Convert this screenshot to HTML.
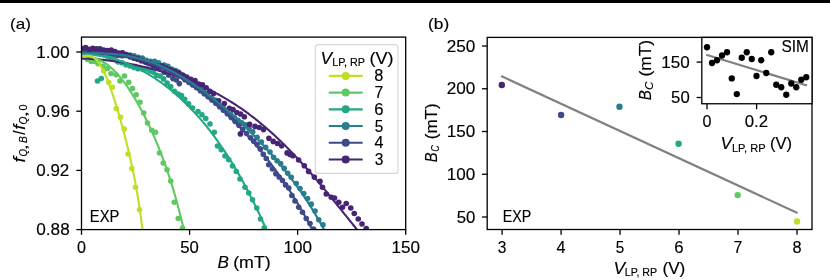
<!DOCTYPE html><html><head><meta charset="utf-8"><style>html,body{margin:0;padding:0;background:#fff;overflow:hidden;width:830px;height:280px;}svg{display:block;will-change:transform;} text{font-family:"Liberation Sans",sans-serif;stroke:#000;stroke-width:0.15px;}</style></head><body><svg width="830" height="280" viewBox="0 0 830 280"><rect width="830" height="280" fill="#fff"/><rect x="0" y="0" width="830" height="3" fill="#000"/>
<text x="10.14" y="29.30" font-size="15.0" textLength="20.81" lengthAdjust="spacingAndGlyphs" style="" fill="#000" >(a)</text>
<defs><clipPath id="ca"><rect x="81.50" y="37.10" width="324.20" height="192.50"/></clipPath><clipPath id="cb"><rect x="701.8" y="37.4" width="110" height="66.4"/></clipPath></defs>
<g clip-path="url(#ca)">
<circle cx="95.00" cy="60.00" r="2.8" fill="#bddf26"/>
<circle cx="98.00" cy="64.00" r="2.8" fill="#bddf26"/>
<circle cx="103.75" cy="71.00" r="2.8" fill="#bddf26"/>
<circle cx="108.75" cy="82.25" r="2.8" fill="#bddf26"/>
<circle cx="112.50" cy="87.25" r="2.8" fill="#bddf26"/>
<circle cx="116.25" cy="108.50" r="2.8" fill="#bddf26"/>
<circle cx="120.50" cy="117.25" r="2.8" fill="#bddf26"/>
<circle cx="124.25" cy="129.00" r="2.8" fill="#bddf26"/>
<circle cx="128.00" cy="154.00" r="2.8" fill="#bddf26"/>
<circle cx="131.75" cy="168.50" r="2.8" fill="#bddf26"/>
<circle cx="135.50" cy="187.25" r="2.8" fill="#bddf26"/>
<circle cx="139.50" cy="209.75" r="2.8" fill="#bddf26"/>
<circle cx="143.50" cy="232.00" r="2.8" fill="#bddf26"/>
<circle cx="87.50" cy="59.50" r="2.8" fill="#5ec962"/>
<circle cx="91.00" cy="61.30" r="2.8" fill="#5ec962"/>
<circle cx="94.50" cy="61.22" r="2.8" fill="#5ec962"/>
<circle cx="98.00" cy="63.00" r="2.8" fill="#5ec962"/>
<circle cx="103.00" cy="66.00" r="2.8" fill="#5ec962"/>
<circle cx="107.50" cy="68.50" r="2.8" fill="#5ec962"/>
<circle cx="111.00" cy="73.50" r="2.8" fill="#5ec962"/>
<circle cx="116.00" cy="74.75" r="2.8" fill="#5ec962"/>
<circle cx="120.00" cy="81.00" r="2.8" fill="#5ec962"/>
<circle cx="124.50" cy="76.00" r="2.8" fill="#5ec962"/>
<circle cx="128.75" cy="82.25" r="2.8" fill="#5ec962"/>
<circle cx="132.50" cy="88.50" r="2.8" fill="#5ec962"/>
<circle cx="136.25" cy="94.75" r="2.8" fill="#5ec962"/>
<circle cx="140.00" cy="102.25" r="2.8" fill="#5ec962"/>
<circle cx="143.75" cy="113.00" r="2.8" fill="#5ec962"/>
<circle cx="147.50" cy="123.00" r="2.8" fill="#5ec962"/>
<circle cx="151.75" cy="130.25" r="2.8" fill="#5ec962"/>
<circle cx="155.50" cy="132.25" r="2.8" fill="#5ec962"/>
<circle cx="159.50" cy="153.00" r="2.8" fill="#5ec962"/>
<circle cx="163.25" cy="163.00" r="2.8" fill="#5ec962"/>
<circle cx="167.00" cy="169.75" r="2.8" fill="#5ec962"/>
<circle cx="170.75" cy="181.00" r="2.8" fill="#5ec962"/>
<circle cx="174.25" cy="202.25" r="2.8" fill="#5ec962"/>
<circle cx="178.25" cy="218.50" r="2.8" fill="#5ec962"/>
<circle cx="182.50" cy="228.00" r="2.8" fill="#5ec962"/>
<circle cx="82.00" cy="50.50" r="2.8" fill="#22a884"/>
<circle cx="85.60" cy="51.62" r="2.8" fill="#22a884"/>
<circle cx="89.20" cy="51.36" r="2.8" fill="#22a884"/>
<circle cx="92.80" cy="52.49" r="2.8" fill="#22a884"/>
<circle cx="96.40" cy="53.55" r="2.8" fill="#22a884"/>
<circle cx="100.00" cy="53.00" r="2.8" fill="#22a884"/>
<circle cx="103.33" cy="54.58" r="2.8" fill="#22a884"/>
<circle cx="106.67" cy="56.00" r="2.8" fill="#22a884"/>
<circle cx="110.00" cy="57.50" r="2.8" fill="#22a884"/>
<circle cx="114.00" cy="58.81" r="2.8" fill="#22a884"/>
<circle cx="118.00" cy="62.00" r="2.8" fill="#22a884"/>
<circle cx="122.00" cy="62.82" r="2.8" fill="#22a884"/>
<circle cx="126.00" cy="64.67" r="2.8" fill="#22a884"/>
<circle cx="130.00" cy="66.00" r="2.8" fill="#22a884"/>
<circle cx="134.00" cy="67.39" r="2.8" fill="#22a884"/>
<circle cx="138.00" cy="68.67" r="2.8" fill="#22a884"/>
<circle cx="142.00" cy="68.74" r="2.8" fill="#22a884"/>
<circle cx="146.00" cy="69.05" r="2.8" fill="#22a884"/>
<circle cx="150.00" cy="71.00" r="2.8" fill="#22a884"/>
<circle cx="153.33" cy="72.20" r="2.8" fill="#22a884"/>
<circle cx="156.67" cy="75.23" r="2.8" fill="#22a884"/>
<circle cx="160.00" cy="76.00" r="2.8" fill="#22a884"/>
<circle cx="163.57" cy="78.90" r="2.8" fill="#22a884"/>
<circle cx="167.13" cy="82.96" r="2.8" fill="#22a884"/>
<circle cx="170.70" cy="86.60" r="2.8" fill="#22a884"/>
<circle cx="174.45" cy="91.25" r="2.8" fill="#22a884"/>
<circle cx="178.20" cy="94.00" r="2.8" fill="#22a884"/>
<circle cx="181.45" cy="95.65" r="2.8" fill="#22a884"/>
<circle cx="184.70" cy="99.40" r="2.8" fill="#22a884"/>
<circle cx="188.60" cy="103.92" r="2.8" fill="#22a884"/>
<circle cx="192.50" cy="108.00" r="2.8" fill="#22a884"/>
<circle cx="198.00" cy="111.50" r="2.8" fill="#22a884"/>
<circle cx="202.00" cy="114.75" r="2.8" fill="#22a884"/>
<circle cx="205.75" cy="118.50" r="2.8" fill="#22a884"/>
<circle cx="210.00" cy="124.00" r="2.8" fill="#22a884"/>
<circle cx="214.25" cy="132.25" r="2.8" fill="#22a884"/>
<circle cx="217.50" cy="146.00" r="2.8" fill="#22a884"/>
<circle cx="221.25" cy="149.75" r="2.8" fill="#22a884"/>
<circle cx="225.00" cy="156.00" r="2.8" fill="#22a884"/>
<circle cx="228.75" cy="159.75" r="2.8" fill="#22a884"/>
<circle cx="232.50" cy="166.00" r="2.8" fill="#22a884"/>
<circle cx="236.25" cy="171.50" r="2.8" fill="#22a884"/>
<circle cx="240.00" cy="179.00" r="2.8" fill="#22a884"/>
<circle cx="245.00" cy="187.25" r="2.8" fill="#22a884"/>
<circle cx="248.75" cy="193.00" r="2.8" fill="#22a884"/>
<circle cx="252.50" cy="199.75" r="2.8" fill="#22a884"/>
<circle cx="256.75" cy="208.00" r="2.8" fill="#22a884"/>
<circle cx="260.50" cy="219.00" r="2.8" fill="#22a884"/>
<circle cx="264.25" cy="227.75" r="2.8" fill="#22a884"/>
<circle cx="97.50" cy="81.00" r="2.8" fill="#22a884"/>
<circle cx="101.25" cy="78.50" r="2.8" fill="#22a884"/>
<circle cx="82.00" cy="49.00" r="2.8" fill="#287d8e"/>
<circle cx="86.00" cy="50.49" r="2.8" fill="#287d8e"/>
<circle cx="90.00" cy="49.41" r="2.8" fill="#287d8e"/>
<circle cx="94.00" cy="50.61" r="2.8" fill="#287d8e"/>
<circle cx="98.00" cy="51.90" r="2.8" fill="#287d8e"/>
<circle cx="102.00" cy="50.69" r="2.8" fill="#287d8e"/>
<circle cx="106.00" cy="52.05" r="2.8" fill="#287d8e"/>
<circle cx="110.00" cy="53.05" r="2.8" fill="#287d8e"/>
<circle cx="114.00" cy="53.37" r="2.8" fill="#287d8e"/>
<circle cx="118.00" cy="53.43" r="2.8" fill="#287d8e"/>
<circle cx="122.00" cy="53.35" r="2.8" fill="#287d8e"/>
<circle cx="126.00" cy="54.48" r="2.8" fill="#287d8e"/>
<circle cx="130.00" cy="55.00" r="2.8" fill="#287d8e"/>
<circle cx="134.09" cy="55.85" r="2.8" fill="#287d8e"/>
<circle cx="138.17" cy="57.21" r="2.8" fill="#287d8e"/>
<circle cx="142.26" cy="58.09" r="2.8" fill="#287d8e"/>
<circle cx="146.34" cy="60.26" r="2.8" fill="#287d8e"/>
<circle cx="150.43" cy="61.23" r="2.8" fill="#287d8e"/>
<circle cx="154.51" cy="61.36" r="2.8" fill="#287d8e"/>
<circle cx="158.60" cy="62.90" r="2.8" fill="#287d8e"/>
<circle cx="164.30" cy="65.00" r="2.8" fill="#287d8e"/>
<circle cx="167.90" cy="66.40" r="2.8" fill="#287d8e"/>
<circle cx="171.77" cy="68.93" r="2.8" fill="#287d8e"/>
<circle cx="175.64" cy="70.65" r="2.8" fill="#287d8e"/>
<circle cx="179.51" cy="73.41" r="2.8" fill="#287d8e"/>
<circle cx="183.39" cy="75.56" r="2.8" fill="#287d8e"/>
<circle cx="187.26" cy="78.60" r="2.8" fill="#287d8e"/>
<circle cx="191.13" cy="80.34" r="2.8" fill="#287d8e"/>
<circle cx="195.00" cy="83.00" r="2.8" fill="#287d8e"/>
<circle cx="199.00" cy="86.46" r="2.8" fill="#287d8e"/>
<circle cx="203.00" cy="90.58" r="2.8" fill="#287d8e"/>
<circle cx="207.00" cy="93.46" r="2.8" fill="#287d8e"/>
<circle cx="211.00" cy="98.09" r="2.8" fill="#287d8e"/>
<circle cx="215.00" cy="100.05" r="2.8" fill="#287d8e"/>
<circle cx="219.00" cy="104.83" r="2.8" fill="#287d8e"/>
<circle cx="223.00" cy="107.68" r="2.8" fill="#287d8e"/>
<circle cx="227.00" cy="111.40" r="2.8" fill="#287d8e"/>
<circle cx="230.69" cy="114.15" r="2.8" fill="#287d8e"/>
<circle cx="234.37" cy="117.52" r="2.8" fill="#287d8e"/>
<circle cx="238.06" cy="120.19" r="2.8" fill="#287d8e"/>
<circle cx="241.74" cy="122.87" r="2.8" fill="#287d8e"/>
<circle cx="245.43" cy="124.87" r="2.8" fill="#287d8e"/>
<circle cx="249.11" cy="127.99" r="2.8" fill="#287d8e"/>
<circle cx="252.80" cy="131.80" r="2.8" fill="#287d8e"/>
<circle cx="257.10" cy="137.31" r="2.8" fill="#287d8e"/>
<circle cx="261.40" cy="141.95" r="2.8" fill="#287d8e"/>
<circle cx="265.70" cy="147.38" r="2.8" fill="#287d8e"/>
<circle cx="270.00" cy="152.00" r="2.8" fill="#287d8e"/>
<circle cx="273.54" cy="157.21" r="2.8" fill="#287d8e"/>
<circle cx="277.08" cy="160.82" r="2.8" fill="#287d8e"/>
<circle cx="280.62" cy="163.64" r="2.8" fill="#287d8e"/>
<circle cx="284.17" cy="168.41" r="2.8" fill="#287d8e"/>
<circle cx="287.71" cy="173.25" r="2.8" fill="#287d8e"/>
<circle cx="291.25" cy="177.25" r="2.8" fill="#287d8e"/>
<circle cx="296.25" cy="183.50" r="2.8" fill="#287d8e"/>
<circle cx="300.00" cy="188.50" r="2.8" fill="#287d8e"/>
<circle cx="303.75" cy="193.50" r="2.8" fill="#287d8e"/>
<circle cx="307.50" cy="198.50" r="2.8" fill="#287d8e"/>
<circle cx="311.25" cy="204.17" r="2.8" fill="#287d8e"/>
<circle cx="315.00" cy="211.00" r="2.8" fill="#287d8e"/>
<circle cx="318.75" cy="219.75" r="2.8" fill="#287d8e"/>
<circle cx="323.00" cy="224.75" r="2.8" fill="#287d8e"/>
<circle cx="82.00" cy="49.00" r="2.8" fill="#3e4a89"/>
<circle cx="86.00" cy="50.69" r="2.8" fill="#3e4a89"/>
<circle cx="90.00" cy="51.31" r="2.8" fill="#3e4a89"/>
<circle cx="94.00" cy="51.77" r="2.8" fill="#3e4a89"/>
<circle cx="98.00" cy="51.61" r="2.8" fill="#3e4a89"/>
<circle cx="102.00" cy="53.08" r="2.8" fill="#3e4a89"/>
<circle cx="106.00" cy="52.19" r="2.8" fill="#3e4a89"/>
<circle cx="110.00" cy="53.25" r="2.8" fill="#3e4a89"/>
<circle cx="114.00" cy="54.25" r="2.8" fill="#3e4a89"/>
<circle cx="118.00" cy="55.53" r="2.8" fill="#3e4a89"/>
<circle cx="122.00" cy="55.64" r="2.8" fill="#3e4a89"/>
<circle cx="126.00" cy="55.53" r="2.8" fill="#3e4a89"/>
<circle cx="130.00" cy="57.00" r="2.8" fill="#3e4a89"/>
<circle cx="133.75" cy="58.03" r="2.8" fill="#3e4a89"/>
<circle cx="137.50" cy="59.36" r="2.8" fill="#3e4a89"/>
<circle cx="141.25" cy="60.69" r="2.8" fill="#3e4a89"/>
<circle cx="145.00" cy="61.76" r="2.8" fill="#3e4a89"/>
<circle cx="148.75" cy="63.69" r="2.8" fill="#3e4a89"/>
<circle cx="152.50" cy="65.14" r="2.8" fill="#3e4a89"/>
<circle cx="156.25" cy="67.23" r="2.8" fill="#3e4a89"/>
<circle cx="160.00" cy="68.00" r="2.8" fill="#3e4a89"/>
<circle cx="164.30" cy="72.19" r="2.8" fill="#3e4a89"/>
<circle cx="168.60" cy="75.12" r="2.8" fill="#3e4a89"/>
<circle cx="172.90" cy="78.60" r="2.8" fill="#3e4a89"/>
<circle cx="176.40" cy="80.00" r="2.8" fill="#3e4a89"/>
<circle cx="179.30" cy="83.60" r="2.8" fill="#3e4a89"/>
<circle cx="185.00" cy="79.81" r="2.8" fill="#3e4a89"/>
<circle cx="188.85" cy="82.35" r="2.8" fill="#3e4a89"/>
<circle cx="192.70" cy="85.01" r="2.8" fill="#3e4a89"/>
<circle cx="196.55" cy="87.77" r="2.8" fill="#3e4a89"/>
<circle cx="200.40" cy="90.65" r="2.8" fill="#3e4a89"/>
<circle cx="204.25" cy="93.63" r="2.8" fill="#3e4a89"/>
<circle cx="208.10" cy="96.72" r="2.8" fill="#3e4a89"/>
<circle cx="211.95" cy="99.92" r="2.8" fill="#3e4a89"/>
<circle cx="215.80" cy="103.23" r="2.8" fill="#3e4a89"/>
<circle cx="219.65" cy="106.64" r="2.8" fill="#3e4a89"/>
<circle cx="223.50" cy="110.16" r="2.8" fill="#3e4a89"/>
<circle cx="227.35" cy="113.78" r="2.8" fill="#3e4a89"/>
<circle cx="231.20" cy="117.51" r="2.8" fill="#3e4a89"/>
<circle cx="235.05" cy="121.35" r="2.8" fill="#3e4a89"/>
<circle cx="238.90" cy="125.30" r="2.8" fill="#3e4a89"/>
<circle cx="242.75" cy="129.37" r="2.8" fill="#3e4a89"/>
<circle cx="246.60" cy="133.54" r="2.8" fill="#3e4a89"/>
<circle cx="250.45" cy="137.84" r="2.8" fill="#3e4a89"/>
<circle cx="253.72" cy="141.13" r="2.8" fill="#3e4a89"/>
<circle cx="257.00" cy="144.60" r="2.8" fill="#3e4a89"/>
<circle cx="260.30" cy="148.90" r="2.8" fill="#3e4a89"/>
<circle cx="263.27" cy="154.31" r="2.8" fill="#3e4a89"/>
<circle cx="266.25" cy="158.50" r="2.8" fill="#3e4a89"/>
<circle cx="268.75" cy="164.75" r="2.8" fill="#3e4a89"/>
<circle cx="272.50" cy="169.00" r="2.8" fill="#3e4a89"/>
<circle cx="275.83" cy="173.69" r="2.8" fill="#3e4a89"/>
<circle cx="279.17" cy="177.05" r="2.8" fill="#3e4a89"/>
<circle cx="282.50" cy="180.50" r="2.8" fill="#3e4a89"/>
<circle cx="285.62" cy="184.91" r="2.8" fill="#3e4a89"/>
<circle cx="288.75" cy="188.00" r="2.8" fill="#3e4a89"/>
<circle cx="291.88" cy="195.47" r="2.8" fill="#3e4a89"/>
<circle cx="295.00" cy="201.00" r="2.8" fill="#3e4a89"/>
<circle cx="298.75" cy="207.25" r="2.8" fill="#3e4a89"/>
<circle cx="302.50" cy="212.25" r="2.8" fill="#3e4a89"/>
<circle cx="306.25" cy="218.50" r="2.8" fill="#3e4a89"/>
<circle cx="310.00" cy="223.50" r="2.8" fill="#3e4a89"/>
<circle cx="313.50" cy="229.00" r="2.8" fill="#3e4a89"/>
<circle cx="82.00" cy="48.50" r="2.8" fill="#482475"/>
<circle cx="85.60" cy="47.55" r="2.8" fill="#482475"/>
<circle cx="89.20" cy="49.45" r="2.8" fill="#482475"/>
<circle cx="92.80" cy="48.19" r="2.8" fill="#482475"/>
<circle cx="96.40" cy="48.69" r="2.8" fill="#482475"/>
<circle cx="100.00" cy="48.80" r="2.8" fill="#482475"/>
<circle cx="103.75" cy="50.13" r="2.8" fill="#482475"/>
<circle cx="107.50" cy="50.63" r="2.8" fill="#482475"/>
<circle cx="111.25" cy="50.05" r="2.8" fill="#482475"/>
<circle cx="115.00" cy="51.50" r="2.8" fill="#482475"/>
<circle cx="118.75" cy="52.97" r="2.8" fill="#482475"/>
<circle cx="122.50" cy="52.80" r="2.8" fill="#482475"/>
<circle cx="126.25" cy="54.56" r="2.8" fill="#482475"/>
<circle cx="130.00" cy="56.00" r="2.8" fill="#482475"/>
<circle cx="134.00" cy="58.09" r="2.8" fill="#482475"/>
<circle cx="138.00" cy="58.64" r="2.8" fill="#482475"/>
<circle cx="142.00" cy="60.42" r="2.8" fill="#482475"/>
<circle cx="146.00" cy="62.10" r="2.8" fill="#482475"/>
<circle cx="150.00" cy="63.00" r="2.8" fill="#482475"/>
<circle cx="154.00" cy="65.01" r="2.8" fill="#482475"/>
<circle cx="158.00" cy="66.17" r="2.8" fill="#482475"/>
<circle cx="162.00" cy="65.82" r="2.8" fill="#482475"/>
<circle cx="166.00" cy="68.02" r="2.8" fill="#482475"/>
<circle cx="170.00" cy="69.50" r="2.8" fill="#482475"/>
<circle cx="174.17" cy="71.25" r="2.8" fill="#482475"/>
<circle cx="178.33" cy="72.19" r="2.8" fill="#482475"/>
<circle cx="182.50" cy="75.09" r="2.8" fill="#482475"/>
<circle cx="186.67" cy="77.07" r="2.8" fill="#482475"/>
<circle cx="190.83" cy="79.39" r="2.8" fill="#482475"/>
<circle cx="195.00" cy="80.50" r="2.8" fill="#482475"/>
<circle cx="198.72" cy="84.09" r="2.8" fill="#482475"/>
<circle cx="202.44" cy="84.92" r="2.8" fill="#482475"/>
<circle cx="206.16" cy="87.77" r="2.8" fill="#482475"/>
<circle cx="209.88" cy="91.33" r="2.8" fill="#482475"/>
<circle cx="213.60" cy="93.60" r="2.8" fill="#482475"/>
<circle cx="218.60" cy="100.70" r="2.8" fill="#482475"/>
<circle cx="224.30" cy="103.60" r="2.8" fill="#482475"/>
<circle cx="229.30" cy="108.20" r="2.8" fill="#482475"/>
<circle cx="233.05" cy="109.54" r="2.8" fill="#482475"/>
<circle cx="236.80" cy="112.50" r="2.8" fill="#482475"/>
<circle cx="240.55" cy="114.04" r="2.8" fill="#482475"/>
<circle cx="244.30" cy="116.80" r="2.8" fill="#482475"/>
<circle cx="249.60" cy="124.30" r="2.8" fill="#482475"/>
<circle cx="255.00" cy="126.40" r="2.8" fill="#482475"/>
<circle cx="259.30" cy="127.50" r="2.8" fill="#482475"/>
<circle cx="263.50" cy="129.60" r="2.8" fill="#482475"/>
<circle cx="268.90" cy="138.20" r="2.8" fill="#482475"/>
<circle cx="273.20" cy="141.40" r="2.8" fill="#482475"/>
<circle cx="277.50" cy="143.50" r="2.8" fill="#482475"/>
<circle cx="281.70" cy="145.70" r="2.8" fill="#482475"/>
<circle cx="287.10" cy="152.90" r="2.8" fill="#482475"/>
<circle cx="290.00" cy="154.46" r="2.8" fill="#482475"/>
<circle cx="292.90" cy="155.70" r="2.8" fill="#482475"/>
<circle cx="298.60" cy="160.00" r="2.8" fill="#482475"/>
<circle cx="304.30" cy="165.70" r="2.8" fill="#482475"/>
<circle cx="308.60" cy="171.40" r="2.8" fill="#482475"/>
<circle cx="314.30" cy="177.10" r="2.8" fill="#482475"/>
<circle cx="320.00" cy="181.40" r="2.8" fill="#482475"/>
<circle cx="322.50" cy="187.25" r="2.8" fill="#482475"/>
<circle cx="326.25" cy="194.00" r="2.8" fill="#482475"/>
<circle cx="331.25" cy="197.25" r="2.8" fill="#482475"/>
<circle cx="334.50" cy="198.00" r="2.8" fill="#482475"/>
<circle cx="338.75" cy="202.25" r="2.8" fill="#482475"/>
<circle cx="342.50" cy="207.25" r="2.8" fill="#482475"/>
<circle cx="346.25" cy="203.50" r="2.8" fill="#482475"/>
<circle cx="350.75" cy="208.00" r="2.8" fill="#482475"/>
<circle cx="354.25" cy="213.50" r="2.8" fill="#482475"/>
<circle cx="358.25" cy="219.00" r="2.8" fill="#482475"/>
<circle cx="362.00" cy="224.00" r="2.8" fill="#482475"/>
<circle cx="366.25" cy="228.50" r="2.8" fill="#482475"/>
<circle cx="240.40" cy="133.90" r="2.8" fill="#482475"/>
<polyline points="81.50,58.66 82.55,58.67 83.59,58.67 84.64,58.69 85.68,58.71 86.73,58.74 87.77,58.77 88.82,58.81 89.86,58.86 90.91,58.91 91.96,58.96 93.00,59.02 94.05,59.09 95.09,59.16 96.14,59.23 97.18,59.31 98.23,59.40 99.27,59.49 100.32,59.58 101.36,59.68 102.41,59.78 103.46,59.89 104.50,60.00 105.55,60.12 106.59,60.24 107.64,60.36 108.68,60.49 109.73,60.62 110.77,60.76 111.82,60.90 112.87,61.04 113.91,61.19 114.96,61.34 116.00,61.49 117.05,61.65 118.09,61.81 119.14,61.98 120.18,62.15 121.23,62.32 122.28,62.49 123.32,62.67 124.37,62.85 125.41,63.04 126.46,63.23 127.50,63.42 128.55,63.61 129.59,63.81 130.64,64.01 131.68,64.22 132.73,64.43 133.78,64.64 134.82,64.85 135.87,65.07 136.91,65.29 137.96,65.51 139.00,65.74 140.05,65.97 141.09,66.21 142.14,66.44 143.19,66.68 144.23,66.92 145.28,67.17 146.32,67.42 147.37,67.67 148.41,67.93 149.46,68.19 150.50,68.45 151.55,68.72 152.60,68.99 153.64,69.26 154.69,69.54 155.73,69.82 156.78,70.10 157.82,70.39 158.87,70.68 159.91,70.97 160.96,71.27 162.00,71.57 163.05,71.87 164.10,72.18 165.14,72.49 166.19,72.81 167.23,73.13 168.28,73.45 169.32,73.78 170.37,74.11 171.41,74.45 172.46,74.79 173.51,75.13 174.55,75.48 175.60,75.83 176.64,76.19 177.69,76.55 178.73,76.91 179.78,77.28 180.82,77.66 181.87,78.03 182.92,78.42 183.96,78.80 185.01,79.20 186.05,79.59 187.10,79.99 188.14,80.40 189.19,80.81 190.23,81.22 191.28,81.65 192.32,82.07 193.37,82.50 194.42,82.94 195.46,83.38 196.51,83.82 197.55,84.28 198.60,84.73 199.64,85.19 200.69,85.66 201.73,86.13 202.78,86.61 203.83,87.10 204.87,87.59 205.92,88.08 206.96,88.58 208.01,89.09 209.05,89.60 210.10,90.12 211.14,90.65 212.19,91.18 213.23,91.72 214.28,92.26 215.33,92.81 216.37,93.37 217.42,93.93 218.46,94.50 219.51,95.07 220.55,95.65 221.60,96.24 222.64,96.83 223.69,97.44 224.74,98.04 225.78,98.66 226.83,99.28 227.87,99.91 228.92,100.54 229.96,101.18 231.01,101.83 232.05,102.49 233.10,103.15 234.15,103.82 235.19,104.50 236.24,105.18 237.28,105.87 238.33,106.57 239.37,107.28 240.42,107.99 241.46,108.71 242.51,109.44 243.55,110.17 244.60,110.92 245.65,111.67 246.69,112.42 247.74,113.19 248.78,113.96 249.83,114.74 250.87,115.53 251.92,116.32 252.96,117.13 254.01,117.94 255.06,118.76 256.10,119.58 257.15,120.42 258.19,121.26 259.24,122.11 260.28,122.96 261.33,123.83 262.37,124.70 263.42,125.58 264.47,126.47 265.51,127.36 266.56,128.27 267.60,129.18 268.65,130.10 269.69,131.02 270.74,131.96 271.78,132.90 272.83,133.85 273.87,134.81 274.92,135.77 275.97,136.74 277.01,137.72 278.06,138.71 279.10,139.71 280.15,140.71 281.19,141.72 282.24,142.74 283.28,143.76 284.33,144.79 285.38,145.83 286.42,146.88 287.47,147.93 288.51,149.00 289.56,150.07 290.60,151.14 291.65,152.22 292.69,153.31 293.74,154.41 294.79,155.51 295.83,156.63 296.88,157.74 297.92,158.87 298.97,160.00 300.01,161.13 301.06,162.28 302.10,163.43 303.15,164.58 304.19,165.75 305.24,166.92 306.29,168.09 307.33,169.27 308.38,170.46 309.42,171.65 310.47,172.85 311.51,174.05 312.56,175.26 313.60,176.47 314.65,177.69 315.70,178.91 316.74,180.14 317.79,181.38 318.83,182.61 319.88,183.86 320.92,185.10 321.97,186.35 323.01,187.61 324.06,188.87 325.11,190.13 326.15,191.40 327.20,192.67 328.24,193.94 329.29,195.22 330.33,196.49 331.38,197.78 332.42,199.06 333.47,200.35 334.51,201.64 335.56,202.93 336.61,204.22 337.65,205.52 338.70,206.81 339.74,208.11 340.79,209.41 341.83,210.71 342.88,212.00 343.92,213.30 344.97,214.60 346.02,215.90 347.06,217.20 348.11,218.50 349.15,219.80 350.20,221.10 351.24,222.39 352.29,223.69 353.33,224.98 354.38,226.27 355.43,227.56 356.47,228.85 357.52,230.13 358.56,231.41 359.61,232.68 360.65,233.95 361.70,235.22 362.74,236.49" fill="none" stroke="#482475" stroke-width="2.1"/>
<polyline points="81.50,53.50 82.55,53.50 83.59,53.50 84.64,53.50 85.68,53.50 86.73,53.50 87.77,53.51 88.82,53.51 89.86,53.52 90.91,53.53 91.96,53.54 93.00,53.56 94.05,53.57 95.09,53.59 96.14,53.62 97.18,53.65 98.23,53.68 99.27,53.71 100.32,53.75 101.36,53.79 102.41,53.84 103.46,53.89 104.50,53.95 105.55,54.01 106.59,54.08 107.64,54.15 108.68,54.23 109.73,54.32 110.77,54.41 111.82,54.50 112.87,54.61 113.91,54.71 114.96,54.83 116.00,54.95 117.05,55.08 118.09,55.21 119.14,55.35 120.18,55.50 121.23,55.66 122.28,55.82 123.32,55.99 124.37,56.17 125.41,56.36 126.46,56.55 127.50,56.75 128.55,56.96 129.59,57.17 130.64,57.40 131.68,57.63 132.73,57.87 133.78,58.12 134.82,58.38 135.87,58.64 136.91,58.91 137.96,59.19 139.00,59.48 140.05,59.78 141.09,60.09 142.14,60.40 143.19,60.73 144.23,61.06 145.28,61.40 146.32,61.75 147.37,62.11 148.41,62.47 149.46,62.85 150.50,63.23 151.55,63.63 152.60,64.03 153.64,64.44 154.69,64.86 155.73,65.29 156.78,65.72 157.82,66.17 158.87,66.62 159.91,67.09 160.96,67.56 162.00,68.04 163.05,68.53 164.10,69.03 165.14,69.53 166.19,70.05 167.23,70.57 168.28,71.11 169.32,71.65 170.37,72.20 171.41,72.76 172.46,73.33 173.51,73.91 174.55,74.49 175.60,75.08 176.64,75.69 177.69,76.30 178.73,76.92 179.78,77.55 180.82,78.18 181.87,78.83 182.92,79.48 183.96,80.14 185.01,80.81 186.05,81.49 187.10,82.18 188.14,82.88 189.19,83.58 190.23,84.29 191.28,85.01 192.32,85.74 193.37,86.48 194.42,87.22 195.46,87.98 196.51,88.74 197.55,89.51 198.60,90.29 199.64,91.07 200.69,91.87 201.73,92.67 202.78,93.48 203.83,94.30 204.87,95.12 205.92,95.95 206.96,96.80 208.01,97.65 209.05,98.50 210.10,99.37 211.14,100.24 212.19,101.12 213.23,102.01 214.28,102.91 215.33,103.81 216.37,104.73 217.42,105.65 218.46,106.57 219.51,107.51 220.55,108.45 221.60,109.41 222.64,110.36 223.69,111.33 224.74,112.31 225.78,113.29 226.83,114.28 227.87,115.28 228.92,116.29 229.96,117.30 231.01,118.32 232.05,119.35 233.10,120.39 234.15,121.44 235.19,122.49 236.24,123.56 237.28,124.63 238.33,125.71 239.37,126.80 240.42,127.89 241.46,128.99 242.51,130.11 243.55,131.23 244.60,132.36 245.65,133.50 246.69,134.64 247.74,135.80 248.78,136.96 249.83,138.13 250.87,139.32 251.92,140.51 252.96,141.71 254.01,142.92 255.06,144.13 256.10,145.36 257.15,146.60 258.19,147.85 259.24,149.10 260.28,150.37 261.33,151.64 262.37,152.93 263.42,154.23 264.47,155.53 265.51,156.85 266.56,158.18 267.60,159.52 268.65,160.87 269.69,162.23 270.74,163.60 271.78,164.98 272.83,166.38 273.87,167.78 274.92,169.20 275.97,170.63 277.01,172.08 278.06,173.53 279.10,175.00 280.15,176.48 281.19,177.97 282.24,179.48 283.28,181.00 284.33,182.54 285.38,184.08 286.42,185.65 287.47,187.22 288.51,188.82 289.56,190.42 290.60,192.04 291.65,193.68 292.69,195.34 293.74,197.00 294.79,198.69 295.83,200.39 296.88,202.11 297.92,203.85 298.97,205.60 300.01,207.37 301.06,209.16 302.10,210.97 303.15,212.80 304.19,214.65 305.24,216.51 306.29,218.40 307.33,220.31 308.38,222.23 309.42,224.18 310.47,226.15 311.51,228.14 312.56,230.15 313.60,232.19 314.65,234.25 315.70,236.33" fill="none" stroke="#3e4a89" stroke-width="2.1"/>
<polyline points="81.50,53.20 82.55,53.20 83.59,53.20 84.64,53.19 85.68,53.19 86.73,53.19 87.77,53.19 88.82,53.18 89.86,53.18 90.91,53.18 91.96,53.19 93.00,53.19 94.05,53.20 95.09,53.21 96.14,53.22 97.18,53.23 98.23,53.25 99.27,53.27 100.32,53.29 101.36,53.32 102.41,53.35 103.46,53.39 104.50,53.43 105.55,53.47 106.59,53.52 107.64,53.58 108.68,53.64 109.73,53.70 110.77,53.78 111.82,53.85 112.87,53.94 113.91,54.03 114.96,54.12 116.00,54.22 117.05,54.33 118.09,54.45 119.14,54.57 120.18,54.70 121.23,54.83 122.28,54.98 123.32,55.13 124.37,55.28 125.41,55.45 126.46,55.62 127.50,55.80 128.55,55.99 129.59,56.19 130.64,56.39 131.68,56.60 132.73,56.82 133.78,57.05 134.82,57.29 135.87,57.53 136.91,57.78 137.96,58.04 139.00,58.31 140.05,58.59 141.09,58.88 142.14,59.17 143.19,59.48 144.23,59.79 145.28,60.11 146.32,60.44 147.37,60.78 148.41,61.12 149.46,61.48 150.50,61.84 151.55,62.22 152.60,62.60 153.64,62.99 154.69,63.39 155.73,63.79 156.78,64.21 157.82,64.63 158.87,65.07 159.91,65.51 160.96,65.96 162.00,66.42 163.05,66.89 164.10,67.36 165.14,67.85 166.19,68.34 167.23,68.84 168.28,69.35 169.32,69.87 170.37,70.40 171.41,70.93 172.46,71.48 173.51,72.03 174.55,72.59 175.60,73.16 176.64,73.73 177.69,74.32 178.73,74.91 179.78,75.51 180.82,76.12 181.87,76.73 182.92,77.36 183.96,77.99 185.01,78.63 186.05,79.28 187.10,79.93 188.14,80.59 189.19,81.26 190.23,81.94 191.28,82.63 192.32,83.32 193.37,84.02 194.42,84.72 195.46,85.44 196.51,86.16 197.55,86.89 198.60,87.62 199.64,88.36 200.69,89.11 201.73,89.87 202.78,90.63 203.83,91.40 204.87,92.18 205.92,92.96 206.96,93.75 208.01,94.54 209.05,95.35 210.10,96.16 211.14,96.97 212.19,97.79 213.23,98.62 214.28,99.46 215.33,100.30 216.37,101.14 217.42,102.00 218.46,102.86 219.51,103.72 220.55,104.59 221.60,105.47 222.64,106.36 223.69,107.25 224.74,108.14 225.78,109.04 226.83,109.95 227.87,110.87 228.92,111.78 229.96,112.71 231.01,113.64 232.05,114.58 233.10,115.52 234.15,116.47 235.19,117.43 236.24,118.39 237.28,119.35 238.33,120.33 239.37,121.30 240.42,122.29 241.46,123.28 242.51,124.28 243.55,125.28 244.60,126.29 245.65,127.30 246.69,128.32 247.74,129.35 248.78,130.38 249.83,131.42 250.87,132.47 251.92,133.52 252.96,134.58 254.01,135.64 255.06,136.71 256.10,137.79 257.15,138.87 258.19,139.96 259.24,141.06 260.28,142.17 261.33,143.28 262.37,144.40 263.42,145.52 264.47,146.66 265.51,147.80 266.56,148.95 267.60,150.10 268.65,151.27 269.69,152.44 270.74,153.62 271.78,154.81 272.83,156.00 273.87,157.21 274.92,158.42 275.97,159.64 277.01,160.88 278.06,162.12 279.10,163.37 280.15,164.63 281.19,165.90 282.24,167.18 283.28,168.46 284.33,169.76 285.38,171.07 286.42,172.40 287.47,173.73 288.51,175.07 289.56,176.43 290.60,177.79 291.65,179.17 292.69,180.56 293.74,181.97 294.79,183.38 295.83,184.81 296.88,186.25 297.92,187.71 298.97,189.18 300.01,190.67 301.06,192.17 302.10,193.68 303.15,195.21 304.19,196.76 305.24,198.32 306.29,199.89 307.33,201.49 308.38,203.10 309.42,204.73 310.47,206.38 311.51,208.04 312.56,209.72 313.60,211.43 314.65,213.15 315.70,214.89 316.74,216.65 317.79,218.44 318.83,220.24 319.88,222.07 320.92,223.91 321.97,225.79 323.01,227.68 324.06,229.60 325.11,231.54 326.15,233.50 327.20,235.50" fill="none" stroke="#287d8e" stroke-width="2.1"/>
<polyline points="81.50,54.19 82.55,54.20 83.59,54.21 84.64,54.24 85.68,54.28 86.73,54.32 87.77,54.38 88.82,54.45 89.86,54.52 90.91,54.61 91.96,54.71 93.00,54.82 94.05,54.93 95.09,55.06 96.14,55.20 97.18,55.35 98.23,55.50 99.27,55.67 100.32,55.84 101.36,56.03 102.41,56.23 103.46,56.43 104.50,56.65 105.55,56.87 106.59,57.10 107.64,57.35 108.68,57.60 109.73,57.86 110.77,58.14 111.82,58.42 112.87,58.71 113.91,59.01 114.96,59.32 116.00,59.64 117.05,59.97 118.09,60.30 119.14,60.65 120.18,61.01 121.23,61.37 122.28,61.75 123.32,62.13 124.37,62.53 125.41,62.93 126.46,63.35 127.50,63.77 128.55,64.20 129.59,64.64 130.64,65.10 131.68,65.56 132.73,66.03 133.78,66.51 134.82,67.00 135.87,67.50 136.91,68.01 137.96,68.53 139.00,69.05 140.05,69.59 141.09,70.14 142.14,70.70 143.19,71.27 144.23,71.84 145.28,72.43 146.32,73.03 147.37,73.64 148.41,74.25 149.46,74.88 150.50,75.52 151.55,76.17 152.60,76.83 153.64,77.50 154.69,78.17 155.73,78.86 156.78,79.56 157.82,80.27 158.87,81.00 159.91,81.73 160.96,82.47 162.00,83.22 163.05,83.99 164.10,84.76 165.14,85.55 166.19,86.34 167.23,87.15 168.28,87.97 169.32,88.80 170.37,89.64 171.41,90.50 172.46,91.36 173.51,92.24 174.55,93.13 175.60,94.03 176.64,94.94 177.69,95.86 178.73,96.80 179.78,97.75 180.82,98.71 181.87,99.68 182.92,100.66 183.96,101.66 185.01,102.67 186.05,103.69 187.10,104.73 188.14,105.78 189.19,106.84 190.23,107.91 191.28,109.00 192.32,110.10 193.37,111.21 194.42,112.34 195.46,113.48 196.51,114.63 197.55,115.80 198.60,116.99 199.64,118.18 200.69,119.39 201.73,120.62 202.78,121.86 203.83,123.11 204.87,124.38 205.92,125.66 206.96,126.96 208.01,128.27 209.05,129.60 210.10,130.94 211.14,132.30 212.19,133.68 213.23,135.07 214.28,136.47 215.33,137.90 216.37,139.33 217.42,140.79 218.46,142.26 219.51,143.74 220.55,145.25 221.60,146.77 222.64,148.30 223.69,149.86 224.74,151.43 225.78,153.02 226.83,154.62 227.87,156.25 228.92,157.89 229.96,159.55 231.01,161.22 232.05,162.92 233.10,164.63 234.15,166.37 235.19,168.12 236.24,169.89 237.28,171.68 238.33,173.48 239.37,175.31 240.42,177.16 241.46,179.02 242.51,180.91 243.55,182.82 244.60,184.74 245.65,186.69 246.69,188.66 247.74,190.64 248.78,192.65 249.83,194.68 250.87,196.73 251.92,198.80 252.96,200.90 254.01,203.01 255.06,205.15 256.10,207.31 257.15,209.49 258.19,211.69 259.24,213.92 260.28,216.16 261.33,218.44 262.37,220.73 263.42,223.05 264.47,225.39 265.51,227.75 266.56,230.14 267.60,232.56 268.65,234.99 269.69,237.45" fill="none" stroke="#22a884" stroke-width="2.1"/>
<polyline points="81.50,56.30 82.55,56.31 83.59,56.33 84.64,56.37 85.68,56.43 86.73,56.52 87.77,56.63 88.82,56.76 89.86,56.93 90.91,57.12 91.96,57.34 93.00,57.59 94.05,57.88 95.09,58.20 96.14,58.55 97.18,58.94 98.23,59.36 99.27,59.83 100.32,60.33 101.36,60.86 102.41,61.44 103.46,62.05 104.50,62.71 105.55,63.40 106.59,64.13 107.64,64.90 108.68,65.72 109.73,66.57 110.77,67.46 111.82,68.39 112.87,69.36 113.91,70.37 114.96,71.42 116.00,72.51 117.05,73.63 118.09,74.80 119.14,76.00 120.18,77.24 121.23,78.52 122.28,79.83 123.32,81.18 124.37,82.57 125.41,83.99 126.46,85.45 127.50,86.95 128.55,88.48 129.59,90.05 130.64,91.65 131.68,93.28 132.73,94.95 133.78,96.65 134.82,98.39 135.87,100.16 136.91,101.96 137.96,103.80 139.00,105.67 140.05,107.57 141.09,109.51 142.14,111.48 143.19,113.48 144.23,115.52 145.28,117.59 146.32,119.70 147.37,121.84 148.41,124.02 149.46,126.24 150.50,128.49 151.55,130.78 152.60,133.11 153.64,135.48 154.69,137.90 155.73,140.35 156.78,142.85 157.82,145.39 158.87,147.98 159.91,150.61 160.96,153.30 162.00,156.04 163.05,158.83 164.10,161.68 165.14,164.58 166.19,167.55 167.23,170.58 168.28,173.68 169.32,176.84 170.37,180.07 171.41,183.38 172.46,186.77 173.51,190.24 174.55,193.79 175.60,197.43 176.64,201.17 177.69,205.00 178.73,208.93 179.78,212.97 180.82,217.12 181.87,221.38 182.92,225.76 183.96,230.27 185.01,234.91" fill="none" stroke="#5ec962" stroke-width="2.1"/>
<polyline points="81.50,56.23 82.55,56.19 83.59,56.10 84.64,55.99 85.68,55.88 86.73,55.81 87.77,55.79 88.82,55.85 89.86,56.00 90.91,56.27 91.96,56.65 93.00,57.17 94.05,57.83 95.09,58.63 96.14,59.59 97.18,60.71 98.23,61.98 99.27,63.42 100.32,65.01 101.36,66.76 102.41,68.66 103.46,70.71 104.50,72.91 105.55,75.24 106.59,77.71 107.64,80.31 108.68,83.03 109.73,85.86 110.77,88.79 111.82,91.83 112.87,94.96 113.91,98.18 114.96,101.49 116.00,104.86 117.05,108.32 118.09,111.84 119.14,115.42 120.18,119.08 121.23,122.80 122.28,126.58 123.32,130.44 124.37,134.37 125.41,138.37 126.46,142.47 127.50,146.66 128.55,150.96 129.59,155.39 130.64,159.95 131.68,164.67 132.73,169.58 133.78,174.69 134.82,180.03 135.87,185.63 136.91,191.53 137.96,197.76 139.00,204.36 140.05,211.38 141.09,218.86 142.14,226.85 143.19,235.41" fill="none" stroke="#bddf26" stroke-width="2.1"/>
</g>
<rect x="81.5" y="37.1" width="324.20" height="192.50" fill="none" stroke="#000" stroke-width="1.3"/>
<line x1="76.30" y1="52.00" x2="81.50" y2="52.00" stroke="#000" stroke-width="1.3" />
<text x="36.31" y="57.50" font-size="16.0" textLength="33.34" lengthAdjust="spacingAndGlyphs" style="" fill="#000" >1.00</text>
<line x1="76.30" y1="111.20" x2="81.50" y2="111.20" stroke="#000" stroke-width="1.3" />
<text x="36.27" y="116.70" font-size="16.0" textLength="33.52" lengthAdjust="spacingAndGlyphs" style="" fill="#000" >0.96</text>
<line x1="76.30" y1="170.40" x2="81.50" y2="170.40" stroke="#000" stroke-width="1.3" />
<text x="36.28" y="175.90" font-size="16.0" textLength="33.04" lengthAdjust="spacingAndGlyphs" style="" fill="#000" >0.92</text>
<line x1="76.30" y1="229.60" x2="81.50" y2="229.60" stroke="#000" stroke-width="1.3" />
<text x="36.27" y="235.10" font-size="16.0" textLength="33.43" lengthAdjust="spacingAndGlyphs" style="" fill="#000" >0.88</text>
<line x1="81.50" y1="229.60" x2="81.50" y2="234.80" stroke="#000" stroke-width="1.3" />
<text x="77.01" y="252.60" font-size="16.0" textLength="8.97" lengthAdjust="spacingAndGlyphs" style="" fill="#000" >0</text>
<line x1="189.57" y1="229.60" x2="189.57" y2="234.80" stroke="#000" stroke-width="1.3" />
<text x="180.34" y="252.60" font-size="16.0" textLength="18.59" lengthAdjust="spacingAndGlyphs" style="" fill="#000" >50</text>
<line x1="297.63" y1="229.60" x2="297.63" y2="234.80" stroke="#000" stroke-width="1.3" />
<text x="283.41" y="252.60" font-size="16.0" textLength="28.47" lengthAdjust="spacingAndGlyphs" style="" fill="#000" >100</text>
<line x1="405.70" y1="229.60" x2="405.70" y2="234.80" stroke="#000" stroke-width="1.3" />
<text x="391.48" y="252.60" font-size="16.0" textLength="28.47" lengthAdjust="spacingAndGlyphs" style="" fill="#000" >150</text>
<text x="217.47" y="268.00" font-size="16.0" textLength="11.41" lengthAdjust="spacingAndGlyphs" style="font-style:italic;" fill="#000" >B</text>
<text x="233.20" y="268.00" font-size="16.0" textLength="37.50" lengthAdjust="spacingAndGlyphs" style="" fill="#000" >(mT)</text>
<text x="89.79" y="221.60" font-size="16.0" textLength="29.59" lengthAdjust="spacingAndGlyphs" style="" fill="#000" >EXP</text>
<rect x="315.4" y="44.6" width="82.6" height="128.8" rx="3" ry="3" fill="#fff" fill-opacity="0.8" stroke="#cccccc" stroke-opacity="0.8" stroke-width="1.1"/>
<text x="320.60" y="63.70" font-size="16.0" textLength="11.55" lengthAdjust="spacingAndGlyphs" style="font-style:italic;" fill="#000" >V</text>
<text x="332.15" y="65.70" font-size="11.5" textLength="32.90" lengthAdjust="spacingAndGlyphs" style="" fill="#000" >LP, RP</text>
<text x="369.58" y="63.70" font-size="16.0" textLength="24.04" lengthAdjust="spacingAndGlyphs" style="" fill="#000" >(V)</text>
<line x1="328.75" y1="75.90" x2="362.70" y2="75.90" stroke="#bddf26" stroke-width="2.1" />
<circle cx="345.70" cy="75.90" r="4.0" fill="#bddf26"/>
<text x="374.39" y="81.40" font-size="16.0" textLength="9.07" lengthAdjust="spacingAndGlyphs" style="" fill="#000" >8</text>
<line x1="328.75" y1="92.62" x2="362.70" y2="92.62" stroke="#5ec962" stroke-width="2.1" />
<circle cx="345.70" cy="92.62" r="4.0" fill="#5ec962"/>
<text x="374.51" y="98.12" font-size="16.0" textLength="8.77" lengthAdjust="spacingAndGlyphs" style="" fill="#000" >7</text>
<line x1="328.75" y1="109.34" x2="362.70" y2="109.34" stroke="#22a884" stroke-width="2.1" />
<circle cx="345.70" cy="109.34" r="4.0" fill="#22a884"/>
<text x="374.28" y="114.84" font-size="16.0" textLength="9.28" lengthAdjust="spacingAndGlyphs" style="" fill="#000" >6</text>
<line x1="328.75" y1="126.06" x2="362.70" y2="126.06" stroke="#287d8e" stroke-width="2.1" />
<circle cx="345.70" cy="126.06" r="4.0" fill="#287d8e"/>
<text x="374.63" y="131.56" font-size="16.0" textLength="8.47" lengthAdjust="spacingAndGlyphs" style="" fill="#000" >5</text>
<line x1="328.75" y1="142.78" x2="362.70" y2="142.78" stroke="#3e4a89" stroke-width="2.1" />
<circle cx="345.70" cy="142.78" r="4.0" fill="#3e4a89"/>
<text x="374.44" y="148.28" font-size="16.0" textLength="8.97" lengthAdjust="spacingAndGlyphs" style="" fill="#000" >4</text>
<line x1="328.75" y1="159.50" x2="362.70" y2="159.50" stroke="#482475" stroke-width="2.1" />
<circle cx="345.70" cy="159.50" r="4.0" fill="#482475"/>
<text x="374.64" y="165.00" font-size="16.0" textLength="8.61" lengthAdjust="spacingAndGlyphs" style="" fill="#000" >3</text>
<g transform="rotate(-90)">
<text x="-162.44" y="24.50" font-size="16.0" textLength="5.29" lengthAdjust="spacingAndGlyphs" style="font-style:italic;" fill="#000" >f</text>
<text x="-156.58" y="27.20" font-size="11.5" textLength="7.60" lengthAdjust="spacingAndGlyphs" style="font-style:italic;" fill="#000" >Q</text>
<text x="-150.41" y="27.20" font-size="11.5" textLength="6.51" lengthAdjust="spacingAndGlyphs" style="" fill="#000" >,</text>
<text x="-142.92" y="27.20" font-size="11.5" textLength="6.87" lengthAdjust="spacingAndGlyphs" style="font-style:italic;" fill="#000" >B</text>
<text x="-134.70" y="24.50" font-size="16.0" textLength="4.30" lengthAdjust="spacingAndGlyphs" style="" fill="#000" >/</text>
<text x="-129.71" y="24.50" font-size="16.0" textLength="5.04" lengthAdjust="spacingAndGlyphs" style="font-style:italic;" fill="#000" >f</text>
<text x="-124.50" y="27.20" font-size="11.5" textLength="7.94" lengthAdjust="spacingAndGlyphs" style="font-style:italic;" fill="#000" >Q</text>
<text x="-117.60" y="27.20" font-size="11.5" textLength="6.79" lengthAdjust="spacingAndGlyphs" style="" fill="#000" >,</text>
<text x="-110.62" y="27.20" font-size="11.5" textLength="6.05" lengthAdjust="spacingAndGlyphs" style="" fill="#000" >0</text>
<text x="-162.35" y="436.80" font-size="16.0" textLength="9.86" lengthAdjust="spacingAndGlyphs" style="font-style:italic;" fill="#000" >B</text>
<text x="-151.80" y="439.20" font-size="11.5" textLength="6.55" lengthAdjust="spacingAndGlyphs" style="font-style:italic;" fill="#000" >C</text>
<text x="-139.26" y="436.80" font-size="16.0" textLength="35.91" lengthAdjust="spacingAndGlyphs" style="" fill="#000" >(mT)</text>
<text x="-100.26" y="651.00" font-size="16.0" textLength="10.08" lengthAdjust="spacingAndGlyphs" style="font-style:italic;" fill="#000" >B</text>
<text x="-90.05" y="653.30" font-size="11.5" textLength="8.49" lengthAdjust="spacingAndGlyphs" style="font-style:italic;" fill="#000" >C</text>
<text x="-76.58" y="651.00" font-size="16.0" textLength="36.65" lengthAdjust="spacingAndGlyphs" style="" fill="#000" >(mT)</text>
</g>
<text x="428.03" y="29.30" font-size="15.0" textLength="21.15" lengthAdjust="spacingAndGlyphs" style="" fill="#000" >(b)</text>
<rect x="487.2" y="37.4" width="324.80" height="192.10" fill="none" stroke="#000" stroke-width="1.3"/>
<line x1="482.00" y1="217.00" x2="487.20" y2="217.00" stroke="#000" stroke-width="1.3" />
<text x="456.74" y="222.50" font-size="16.0" textLength="18.59" lengthAdjust="spacingAndGlyphs" style="" fill="#000" >50</text>
<line x1="482.00" y1="174.25" x2="487.20" y2="174.25" stroke="#000" stroke-width="1.3" />
<text x="446.88" y="179.75" font-size="16.0" textLength="28.47" lengthAdjust="spacingAndGlyphs" style="" fill="#000" >100</text>
<line x1="482.00" y1="131.50" x2="487.20" y2="131.50" stroke="#000" stroke-width="1.3" />
<text x="446.88" y="137.00" font-size="16.0" textLength="28.47" lengthAdjust="spacingAndGlyphs" style="" fill="#000" >150</text>
<line x1="482.00" y1="88.75" x2="487.20" y2="88.75" stroke="#000" stroke-width="1.3" />
<text x="446.76" y="94.25" font-size="16.0" textLength="28.60" lengthAdjust="spacingAndGlyphs" style="" fill="#000" >200</text>
<line x1="482.00" y1="46.00" x2="487.20" y2="46.00" stroke="#000" stroke-width="1.3" />
<text x="446.76" y="51.50" font-size="16.0" textLength="28.60" lengthAdjust="spacingAndGlyphs" style="" fill="#000" >250</text>
<line x1="502.10" y1="229.50" x2="502.10" y2="234.70" stroke="#000" stroke-width="1.3" />
<text x="497.81" y="252.60" font-size="16.0" textLength="8.61" lengthAdjust="spacingAndGlyphs" style="" fill="#000" >3</text>
<line x1="561.08" y1="229.50" x2="561.08" y2="234.70" stroke="#000" stroke-width="1.3" />
<text x="556.59" y="252.60" font-size="16.0" textLength="8.97" lengthAdjust="spacingAndGlyphs" style="" fill="#000" >4</text>
<line x1="620.06" y1="229.50" x2="620.06" y2="234.70" stroke="#000" stroke-width="1.3" />
<text x="615.76" y="252.60" font-size="16.0" textLength="8.47" lengthAdjust="spacingAndGlyphs" style="" fill="#000" >5</text>
<line x1="679.04" y1="229.50" x2="679.04" y2="234.70" stroke="#000" stroke-width="1.3" />
<text x="674.39" y="252.60" font-size="16.0" textLength="9.28" lengthAdjust="spacingAndGlyphs" style="" fill="#000" >6</text>
<line x1="738.02" y1="229.50" x2="738.02" y2="234.70" stroke="#000" stroke-width="1.3" />
<text x="733.60" y="252.60" font-size="16.0" textLength="8.77" lengthAdjust="spacingAndGlyphs" style="" fill="#000" >7</text>
<line x1="797.00" y1="229.50" x2="797.00" y2="234.70" stroke="#000" stroke-width="1.3" />
<text x="792.46" y="252.60" font-size="16.0" textLength="9.07" lengthAdjust="spacingAndGlyphs" style="" fill="#000" >8</text>
<line x1="501.10" y1="76.00" x2="797.50" y2="213.00" stroke="#808080" stroke-width="2.2" />
<circle cx="501.80" cy="85.00" r="3.2" fill="#482475"/>
<circle cx="561.10" cy="115.00" r="3.2" fill="#3e4a89"/>
<circle cx="619.50" cy="106.80" r="3.2" fill="#287d8e"/>
<circle cx="678.60" cy="143.70" r="3.2" fill="#22a884"/>
<circle cx="737.70" cy="195.10" r="3.2" fill="#5ec962"/>
<circle cx="797.00" cy="221.40" r="3.2" fill="#bddf26"/>
<text x="613.60" y="273.60" font-size="16.0" textLength="11.55" lengthAdjust="spacingAndGlyphs" style="font-style:italic;" fill="#000" >V</text>
<text x="624.76" y="275.90" font-size="11.5" textLength="32.38" lengthAdjust="spacingAndGlyphs" style="" fill="#000" >LP, RP</text>
<text x="662.43" y="273.60" font-size="16.0" textLength="22.93" lengthAdjust="spacingAndGlyphs" style="" fill="#000" >(V)</text>
<text x="502.63" y="221.60" font-size="16.0" textLength="28.63" lengthAdjust="spacingAndGlyphs" style="" fill="#000" >EXP</text>
<rect x="701.8" y="37.4" width="110.20" height="66.35" fill="#fff" stroke="#000" stroke-width="1.3"/>
<line x1="696.60" y1="97.50" x2="701.80" y2="97.50" stroke="#000" stroke-width="1.3" />
<text x="671.14" y="103.00" font-size="16.0" textLength="18.59" lengthAdjust="spacingAndGlyphs" style="" fill="#000" >50</text>
<line x1="696.60" y1="62.10" x2="701.80" y2="62.10" stroke="#000" stroke-width="1.3" />
<text x="661.28" y="67.60" font-size="16.0" textLength="28.47" lengthAdjust="spacingAndGlyphs" style="" fill="#000" >150</text>
<line x1="707.00" y1="103.75" x2="707.00" y2="109.25" stroke="#000" stroke-width="1.3" />
<text x="702.51" y="127.30" font-size="16.0" textLength="8.97" lengthAdjust="spacingAndGlyphs" style="" fill="#000" >0</text>
<line x1="756.60" y1="103.75" x2="756.60" y2="109.25" stroke="#000" stroke-width="1.3" />
<text x="744.79" y="127.30" font-size="16.0" textLength="23.29" lengthAdjust="spacingAndGlyphs" style="" fill="#000" >0.2</text>
<line x1="706.25" y1="54.75" x2="807.00" y2="85.50" stroke="#808080" stroke-width="2.2" />
<circle cx="707.00" cy="47.25" r="3.15" fill="#000"/>
<circle cx="712.00" cy="63.00" r="3.15" fill="#000"/>
<circle cx="717.00" cy="60.25" r="3.15" fill="#000"/>
<circle cx="722.00" cy="55.50" r="3.15" fill="#000"/>
<circle cx="727.00" cy="52.25" r="3.15" fill="#000"/>
<circle cx="731.75" cy="78.40" r="3.15" fill="#000"/>
<circle cx="736.80" cy="94.10" r="3.15" fill="#000"/>
<circle cx="741.75" cy="57.75" r="3.15" fill="#000"/>
<circle cx="746.75" cy="52.25" r="3.15" fill="#000"/>
<circle cx="751.75" cy="59.00" r="3.15" fill="#000"/>
<circle cx="756.50" cy="76.00" r="3.15" fill="#000"/>
<circle cx="761.25" cy="60.25" r="3.15" fill="#000"/>
<circle cx="766.25" cy="73.00" r="3.15" fill="#000"/>
<circle cx="771.25" cy="52.25" r="3.15" fill="#000"/>
<circle cx="776.25" cy="84.75" r="3.15" fill="#000"/>
<circle cx="781.25" cy="87.25" r="3.15" fill="#000"/>
<circle cx="786.25" cy="94.75" r="3.15" fill="#000"/>
<circle cx="791.25" cy="83.50" r="3.15" fill="#000"/>
<circle cx="796.25" cy="87.25" r="3.15" fill="#000"/>
<circle cx="801.25" cy="79.75" r="3.15" fill="#000"/>
<circle cx="806.25" cy="77.25" r="3.15" fill="#000"/>
<text x="781.50" y="51.90" font-size="16.0" textLength="27.36" lengthAdjust="spacingAndGlyphs" style="" fill="#000" >SIM</text>
<text x="720.60" y="149.30" font-size="16.0" textLength="11.55" lengthAdjust="spacingAndGlyphs" style="font-style:italic;" fill="#000" >V</text>
<text x="731.93" y="151.60" font-size="11.5" textLength="33.63" lengthAdjust="spacingAndGlyphs" style="" fill="#000" >LP, RP</text>
<text x="769.97" y="149.30" font-size="16.0" textLength="22.05" lengthAdjust="spacingAndGlyphs" style="" fill="#000" >(V)</text></svg></body></html>
